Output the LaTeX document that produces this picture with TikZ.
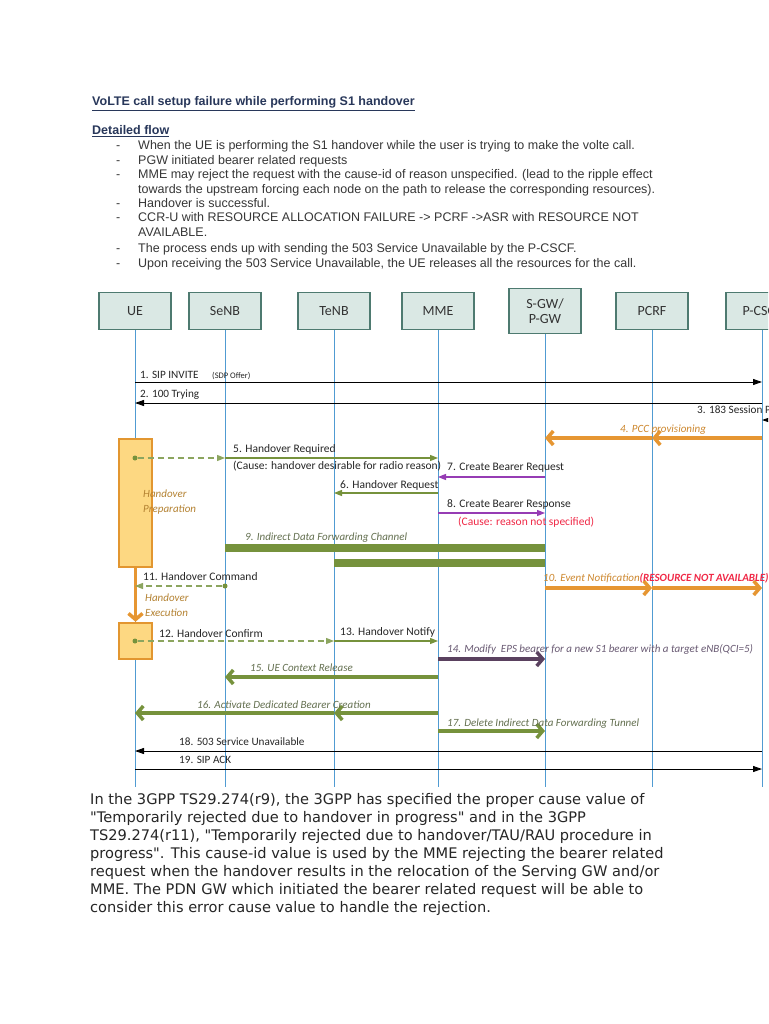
\documentclass[tikz,border=0pt]{standalone}
\usepackage{fontspec}
\setmainfont{Liberation Sans}
\newfontfamily\calfont{Carlito}
\newfontfamily\djvfont{DejaVu Sans}
\usetikzlibrary{arrows.meta}
\definecolor{boxfill}{RGB}{218,232,228}
\definecolor{boxline}{RGB}{78,122,112}
\definecolor{lifeblue}{RGB}{80,155,210}
\definecolor{olive}{RGB}{118,146,60}
\definecolor{oliveL}{RGB}{140,165,95}
\definecolor{orng}{RGB}{230,150,50}
\definecolor{prepfill}{RGB}{253,216,130}
\definecolor{prepline}{RGB}{226,150,48}
\definecolor{purp}{RGB}{150,60,180}
\definecolor{dpurp}{RGB}{90,65,95}
\definecolor{lblgreen}{RGB}{100,112,80}
\definecolor{lblpurp}{RGB}{105,90,115}
\definecolor{lblorng}{RGB}{205,135,45}
\definecolor{lblbrown}{RGB}{180,130,50}
\definecolor{redtxt}{RGB}{240,40,70}
\definecolor{titleblue}{RGB}{40,55,90}
\definecolor{txtgray}{RGB}{55,55,55}
\begin{document}
\begin{tikzpicture}[x=1pt,y=-1pt,
  actor/.style={draw=boxline, fill=boxfill, line width=1.4pt, minimum width=72pt, minimum height=37pt, inner sep=1pt, font=\calfont\fontsize{14}{15}\selectfont, text=black!80, align=center},
  life/.style={draw=lifeblue, line width=0.9pt},
  lbl/.style={anchor=base west, inner sep=0pt, font=\calfont\fontsize{11.5}{13}\selectfont, text=black!85},
  slbl/.style={anchor=base west, inner sep=0pt, font=\calfont\fontsize{11.2}{12}\selectfont, text=black!85},
  ilbl/.style={anchor=base west, inner sep=0pt, font=\calfont\itshape\fontsize{11}{13}\selectfont},
  sip/.style={black, line width=0.9pt, -{Triangle[length=9pt,width=6pt]}},
  gmsg/.style={olive, line width=1.2pt, -{Triangle[length=8pt,width=6pt]}},
  gdash/.style={oliveL, line width=1.2pt, dash pattern=on 6pt off 4pt, -{Triangle[length=8pt,width=6pt]}},
  pmsg/.style={purp, line width=1.1pt, -{Triangle[length=8pt,width=6pt]}},
  fat/.style={line width=3.5pt, -{Straight Barb[length=6pt,width=14pt]}},
  bar/.style={olive, line width=8pt},
  gdot/.style={circle, fill=olive, inner sep=0pt, minimum size=5pt},
  prep/.style={draw=prepline, fill=prepfill, line width=2.5pt, inner sep=0pt},
  para/.style={anchor=base west, inner sep=0pt, font=\djvfont\fontsize{14.6}{18}\selectfont, text=black!85},
  bul/.style={anchor=base west, inner sep=0pt, font=\fontsize{12.5}{14}\selectfont, text=txtgray},
  hd/.style={anchor=base west, inner sep=0pt, font=\bfseries\fontsize{12.5}{14}\selectfont, text=titleblue},
]
\useasboundingbox (0,0) rectangle (768,1024);
\fill[white] (0,0) rectangle (768,1024);
\clip (0,0) rectangle (768,1024);

% ---------- heading text ----------
\node[hd] (title) at (92,106) {\underline{VoLTE call setup failure while performing S1 handover}};
\node[hd] (dflow) at (92,135) {\underline{Detailed flow}};
\node[bul] (b1) at (116,149.5) {-}; \node[bul] (l1) at (138,149.5) {When the UE is performing the S1 handover while the user is trying to make the volte call.};
\node[bul] (b2) at (116,164.5) {-}; \node[bul] (l2) at (138,164.5) {PGW initiated bearer related requests};
\node[bul] (b3) at (116,178.5) {-}; \node[bul] (l3) at (138,178.5) {MME may reject the request with the cause-id of reason unspecified. (lead to the ripple effect};
\node[bul] (l3b) at (138,193.5) {towards the upstream forcing each node on the path to release the corresponding resources).};
\node[bul] (b4) at (116,207.5) {-}; \node[bul] (l4) at (138,207.5) {Handover is successful.};
\node[bul] (b5) at (116,221.5) {-}; \node[bul] (l5) at (138,221.5) {CCR-U with RESOURCE ALLOCATION FAILURE -> PCRF ->ASR with RESOURCE NOT};
\node[bul] (l5b) at (138,236.5) {AVAILABLE.};
\node[bul] (b6) at (116,252.5) {-}; \node[bul] (l6) at (138,252.5) {The process ends up with sending the 503 Service Unavailable by the P-CSCF.};
\node[bul] (b7) at (116,267.5) {-}; \node[bul] (l7) at (138,267.5) {Upon receiving the 503 Service Unavailable, the UE releases all the resources for the call.};

% ---------- actors ----------
\node[actor] (ue) at (135,311) {UE};
\node[actor] (senb) at (225,311) {SeNB};
\node[actor] (tenb) at (334,311) {TeNB};
\node[actor] (mme) at (438,311) {MME};
\node[actor, minimum height=45pt] (sgw) at (545,311) {S-GW/\\P-GW};
\node[actor] (pcrf) at (652,311) {PCRF};
\node[actor] (pcscf) at (762,311) {P-CSCF};

\coordinate (bot) at (0,787);
\foreach \n in {ue,senb,tenb,mme,sgw,pcrf,pcscf}
  \draw[life] (\n.south) -- (\n.south |- bot);

% message rows
\coordinate (y1) at (0,382);
\coordinate (y2) at (0,403);
\coordinate (y3) at (0,420);
\coordinate (y4) at (0,438);
\coordinate (y5) at (0,458);
\coordinate (y7) at (0,477);
\coordinate (y6) at (0,493);
\coordinate (y8) at (0,513);
\coordinate (y9a) at (0,548);
\coordinate (y9b) at (0,563);
\coordinate (y11) at (0,586);
\coordinate (y10) at (0,588);
\coordinate (y12) at (0,641);
\coordinate (y14) at (0,659);
\coordinate (y15) at (0,677);
\coordinate (y16) at (0,713);
\coordinate (y17) at (0,731);
\coordinate (y18) at (0,751);
\coordinate (y19) at (0,769);
\coordinate (e3) at (800,420);

% ---------- SIP 1-3 ----------
\draw[sip] (ue |- y1) -- (pcscf |- y1);
\node[slbl] (t1) at (140,378.5) {1. SIP INVITE};
\node[slbl, font=\calfont\fontsize{8.5}{10}\selectfont] (t1b) at (212,378.5) {(SDP Offer)};
\draw[sip] (pcscf |- y2) -- (ue |- y2);
\node[slbl] (t2) at (140,397) {2. 100 Trying};
\draw[sip] (e3) -- (pcscf |- y3);
\node[slbl] (t3) at (697,413) {3. 183 Session Progress};

% ---------- 4 PCC provisioning ----------
\draw[fat, orng] (pcscf |- y4) -- (pcrf |- y4);
\draw[fat, orng] (pcrf |- y4) -- (sgw |- y4);
\node[ilbl, text=lblorng] (t4) at (620,432) {4. PCC provisioning};

% ---------- handover preparation ----------
\node[prep, minimum width=33pt, minimum height=128pt] (prep) at (135.5,503) {};
\node[ilbl, text=lblbrown] (hp1) at (143,497) {Handover};
\node[ilbl, text=lblbrown] (hp2) at (143,512) {Preparation};

\node[gdot] (d5) at (ue |- y5) {};
\draw[gdash] (d5) -- (senb |- y5);
\draw[gmsg] (senb |- y5) -- (mme |- y5);
\node[lbl] (t5) at (233,452) {5. Handover Required};
\node[lbl] (t5b) at (233,469) {(Cause: handover desirable for radio reason)};

\draw[pmsg] (sgw |- y7) -- (mme |- y7);
\node[lbl] (t7) at (447,470) {7. Create Bearer Request};

\draw[gmsg] (mme |- y6) -- (tenb |- y6);
\node[lbl] (t6) at (340,488) {6. Handover Request};

\draw[pmsg] (mme |- y8) -- (sgw |- y8);
\node[lbl] (t8) at (447,507) {8. Create Bearer Response};
\node[lbl, text=redtxt] (t8b) at (458,525) {(Cause: reason not specified)};

% ---------- 9 indirect data forwarding ----------
\draw[bar] (senb |- y9a) -- (sgw |- y9a);
\draw[bar] (tenb |- y9b) -- (sgw |- y9b);
\node[ilbl, text=lblgreen] (t9) at (245,540) {9. Indirect Data Forwarding Channel};

% ---------- 10 event notification ----------
\draw[fat, orng] (sgw |- y10) -- (pcrf |- y10);
\draw[fat, orng] (pcrf |- y10) -- (pcscf |- y10);
\node[ilbl] (t10) at (543,581) {\textcolor{lblorng}{10. Event Notification}\textcolor{redtxt}{\bfseries(RESOURCE NOT AVAILABLE)}};

% ---------- handover execution ----------
\node[prep, minimum width=33pt, minimum height=36pt] (box2) at (135.5,641) {};
\draw[fat, orng] (prep.south) -- (box2.north);
\node[ilbl, text=lblbrown] (he1) at (145,601) {Handover};
\node[ilbl, text=lblbrown] (he2) at (145,616) {Execution};

\node[gdot] (d11) at (senb |- y11) {};
\draw[gdash] (d11) -- (ue |- y11);
\node[lbl] (t11) at (143,580) {11. Handover Command};

\node[gdot] (d12) at (ue |- y12) {};
\draw[gdash] (d12) -- (tenb |- y12);
\node[lbl] (t12) at (159,637) {12. Handover Confirm};
\draw[gmsg] (tenb |- y12) -- (mme |- y12);
\node[lbl] (t13) at (340,635) {13. Handover Notify};

% ---------- 14-17 ----------
\draw[fat, dpurp] (mme |- y14) -- (sgw |- y14);
\node[ilbl, text=lblpurp] (t14) at (447,652) {14. Modify\ \ EPS bearer for a new S1 bearer with a target eNB(QCI=5)};
\draw[fat, olive] (mme |- y15) -- (senb |- y15);
\node[ilbl, text=lblgreen] (t15) at (250,671) {15. UE Context Release};
\draw[fat, olive] (mme |- y16) -- (tenb |- y16);
\draw[fat, olive] (tenb |- y16) -- (ue |- y16);
\node[ilbl, text=lblgreen] (t16) at (197,708) {16. Activate Dedicated Bearer Creation};
\draw[fat, olive] (mme |- y17) -- (sgw |- y17);
\node[ilbl, text=lblgreen] (t17) at (447,726) {17. Delete Indirect Data Forwarding Tunnel};

% ---------- 18-19 ----------
\draw[sip] (pcscf |- y18) -- (ue |- y18);
\node[slbl] (t18) at (179,745) {18. 503 Service Unavailable};
\draw[sip] (ue |- y19) -- (pcscf |- y19);
\node[slbl] (t19) at (179,763) {19. SIP ACK};

% ---------- bottom paragraph ----------
\node[para] (p1) at (90,804) {In the 3GPP TS29.274(r9), the 3GPP has specified the proper cause value of};
\node[para] (p2) at (90,822) {"Temporarily rejected due to handover in progress" and in the 3GPP};
\node[para] (p3) at (90,840) {TS29.274(r11), "Temporarily rejected due to handover/TAU/RAU procedure in};
\node[para] (p4) at (90,858) {progress". This cause-id value is used by the MME rejecting the bearer related};
\node[para] (p5) at (90,876) {request when the handover results in the relocation of the Serving GW and/or};
\node[para] (p6) at (90,894) {MME. The PDN GW which initiated the bearer related request will be able to};
\node[para] (p7) at (90,912) {consider this error cause value to handle the rejection.};
\end{tikzpicture}
\end{document}
